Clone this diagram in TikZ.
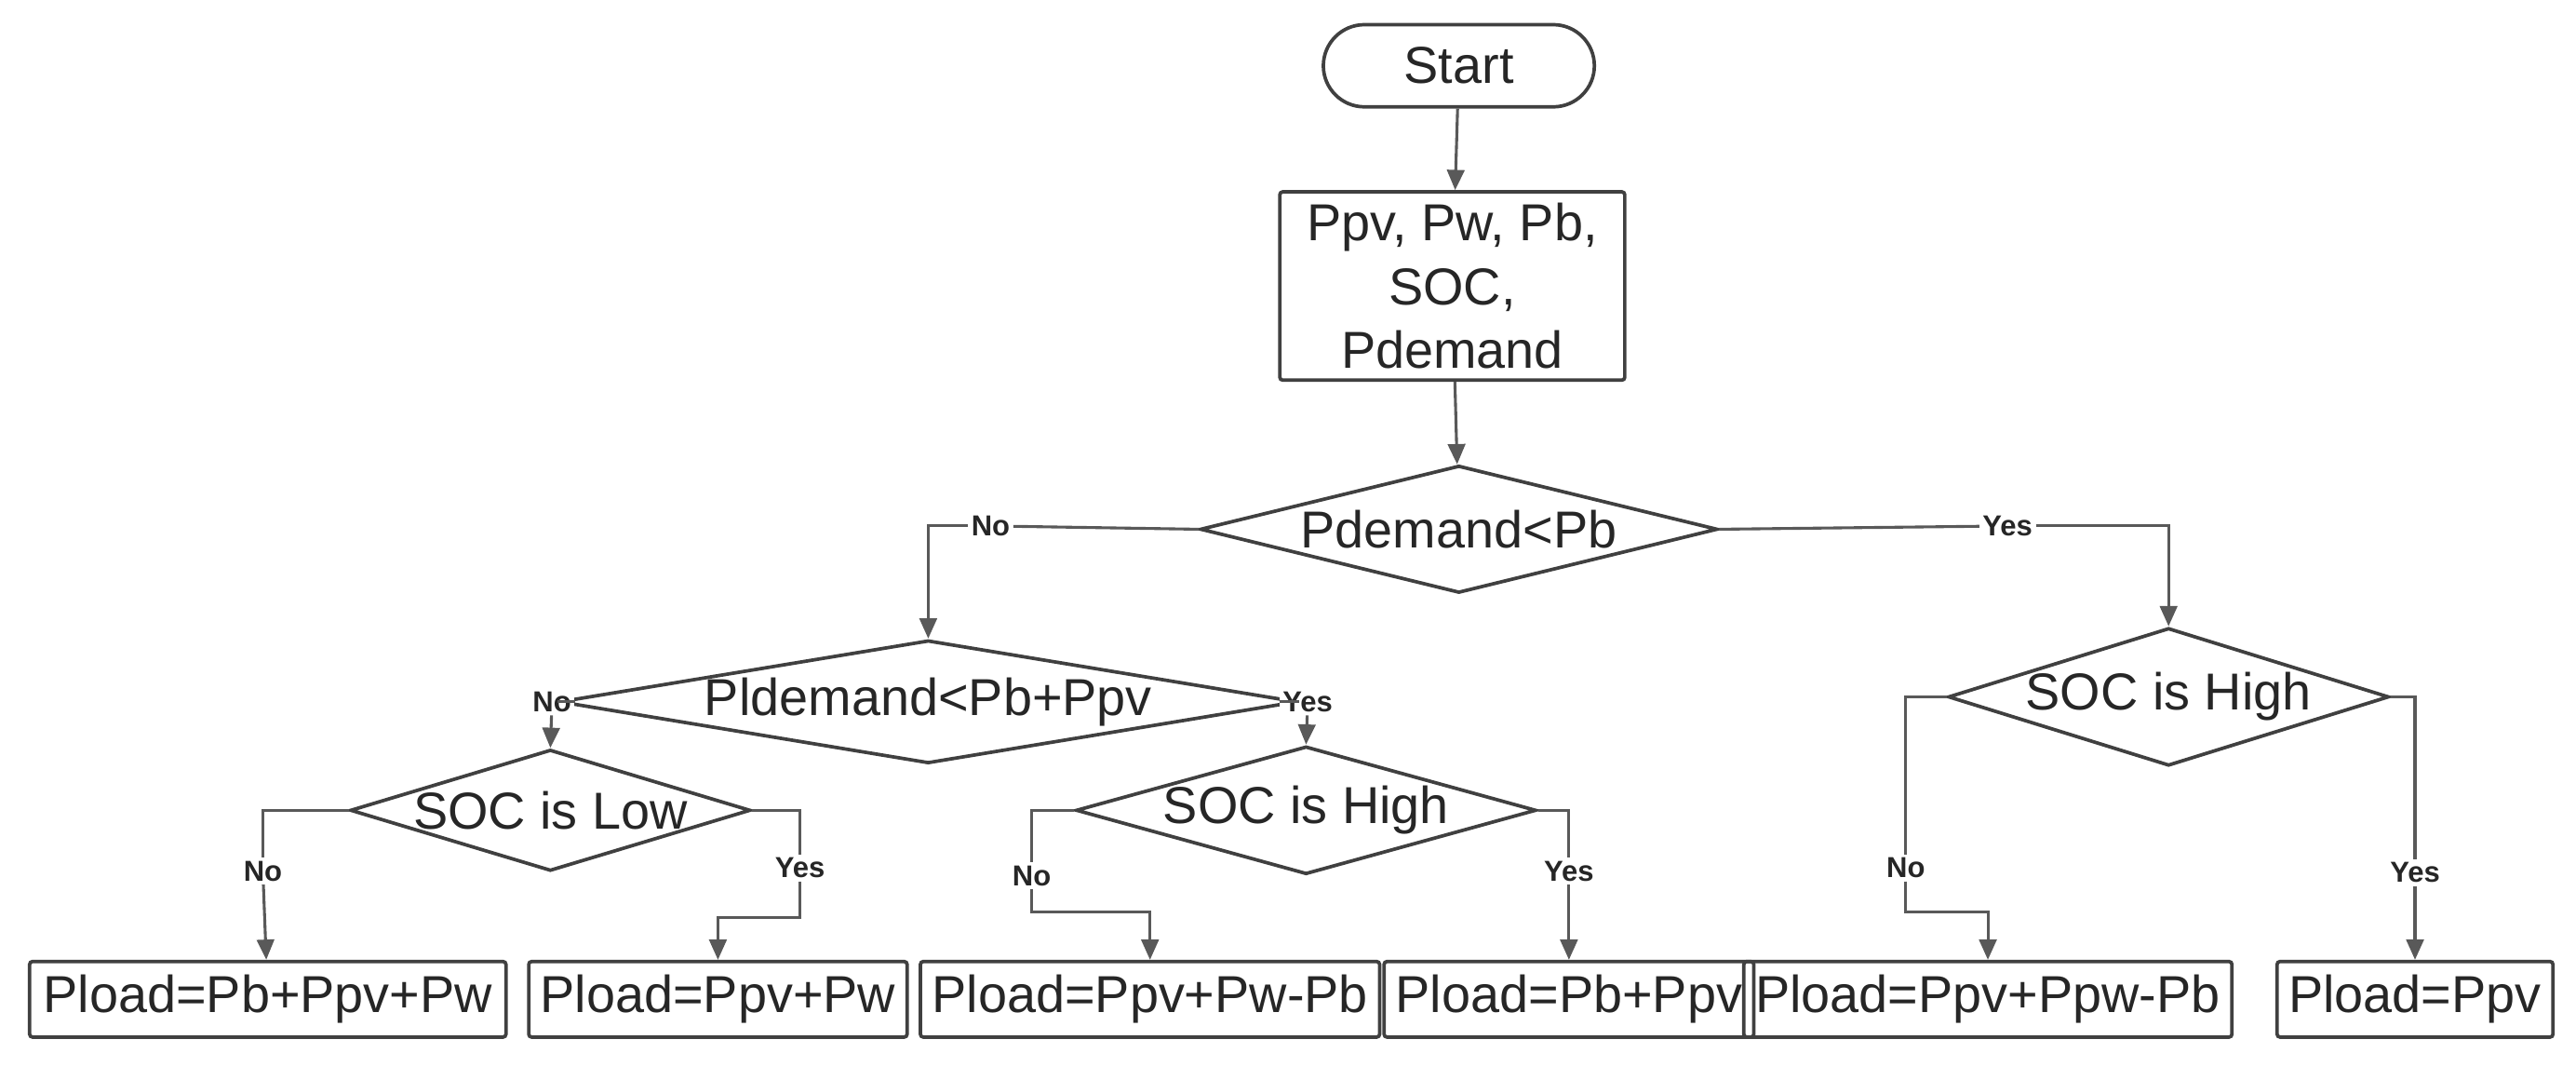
\documentclass[tikz,border=0pt]{standalone}
\usepackage{fontspec}
\setmainfont{Liberation Sans}
\usetikzlibrary{shapes.geometric,arrows.meta}

\tikzset{
  box/.style={rectangle, draw=black!75, line width=1.2pt, rounded corners=1pt, align=center, inner sep=4pt},
  term/.style={rectangle, draw=black!75, line width=1.2pt, rounded corners=0.5cm, minimum width=3.3cm, minimum height=1cm},
  dec/.style={diamond, draw=black!75, line width=1.2pt, inner sep=0pt},
  lbl/.style={font=\bfseries, fill=white, inner sep=1pt},
  arr/.style={-{Triangle[length=7pt,width=6pt]}},
  ln/.style={draw=black!65, line width=1pt}
}

\begin{document}
\begin{tikzpicture}[x=0.02cm, y=-0.02cm, font=\fontsize{18}{22}\selectfont, text=black!85]
\useasboundingbox (0,0) rectangle (1568,657);

\node[term] (start) at (888,40) {Start};
\node[box, minimum width=4.2cm, minimum height=2.2cm] (input) at (884,174) {Ppv, Pw, Pb,\\SOC,\\Pdemand};
\node[dec, minimum width=6.3cm, minimum height=1.55cm, aspect=4] (dmain) at (888,322) {Pdemand<Pb};
\node[dec, minimum width=7.8cm, minimum height=1.3cm, aspect=6] (dbpv) at (565,427) {Pldemand<Pb+Ppv};
\node[dec, minimum width=4.4cm, minimum height=1.35cm, aspect=3.3] (dlow) at (335,493) {SOC is Low};
\node[dec, minimum width=4.8cm, minimum height=1.3cm, aspect=3.6] (dhigha) at (795,493) {SOC is High};
\node[dec, minimum width=4.45cm, minimum height=1.4cm, aspect=3.2] (dhighb) at (1320,424) {SOC is High};

\node[box, minimum width=5.8cm, minimum height=0.92cm] (pa) at (163,608) {Pload=Pb+Ppv+Pw};
\node[box, minimum width=4.5cm, minimum height=0.92cm] (pb) at (437,608) {Pload=Ppv+Pw};
\node[box, minimum width=5.5cm, minimum height=0.92cm] (pc) at (700,608) {Pload=Ppv+Pw-Pb};
\node[box, minimum width=4.3cm, minimum height=0.92cm] (pd) at (955,608) {Pload=Pb+Ppv};
\node[box, minimum width=5.45cm, minimum height=0.92cm] (pe) at (1210,608) {Pload=Ppv+Ppw-Pb};
\node[box, minimum width=3.2cm, minimum height=0.92cm] (pf) at (1470,608) {Pload=Ppv};

\node[lbl] (nomain) at (603,320) {No};
\node[lbl] (yesmain) at (1222,320) {Yes};
\node[lbl] (nobpv) at (336,427) {No};
\node[lbl] (yesbpv) at (796,427) {Yes};
\node[lbl] (nolow) at (160,530) {No};
\node[lbl] (yeslow) at (487,528) {Yes};
\node[lbl] (nohigha) at (628,533) {No};
\node[lbl] (yeshigha) at (955,530) {Yes};
\node[lbl] (nohighb) at (1160,528) {No};
\node[lbl] (yeshighb) at (1470,531) {Yes};

\draw[ln, arr] (start) -- (input);
\draw[ln, arr] (input) -- (dmain);
\draw[ln] (dmain.west) -- (nomain);
\draw[ln, arr] (nomain) -| (dbpv.north);
\draw[ln] (dmain.east) -- (yesmain);
\draw[ln, arr] (yesmain) -| (dhighb.north);

\draw[ln] (dbpv.west) -- (nobpv);
\draw[ln, arr] (nobpv) -- (dlow.north);
\draw[ln] (dbpv.east) -- (yesbpv);
\draw[ln, arr] (yesbpv) -- (dhigha.north);

\draw[ln] (dlow.west) -| (nolow);
\draw[ln, arr] (nolow) -- (pa);
\draw[ln] (dlow.east) -| (yeslow);
\draw[ln, arr] (yeslow) -- ++(0,30) -| (pb.north);

\draw[ln] (dhigha.west) -| (nohigha);
\draw[ln, arr] (nohigha) -- ++(0,22) -| (pc.north);
\draw[ln] (dhigha.east) -| (yeshigha);
\draw[ln, arr] (yeshigha) -- (pd);

\draw[ln] (dhighb.west) -| (nohighb);
\draw[ln, arr] (nohighb) -- ++(0,27) -| (pe.north);
\draw[ln] (dhighb.east) -| (yeshighb);
\draw[ln, arr] (yeshighb) -- (pf);
\end{tikzpicture}
\end{document}
